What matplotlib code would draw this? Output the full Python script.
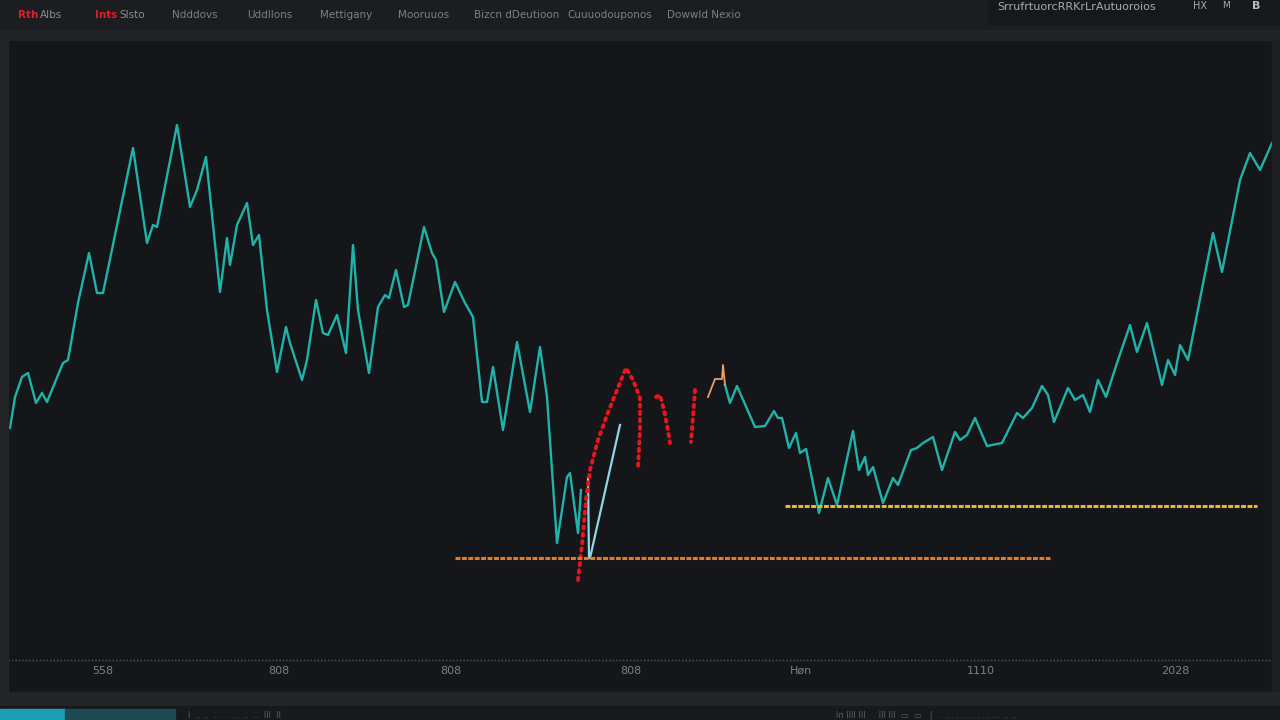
import numpy as np
import matplotlib.pyplot as plt

# main price line (x = bar index, y = price)
px = [10, 15, 22, 28, 36, 42, 47, 63, 68, 78, 89, 97, 103, 133, 147, 153, 157, 177,
      190, 197, 206, 220, 227, 230, 237, 247, 253, 259, 267, 277, 286, 290, 302,
      307, 316, 323, 328, 337, 346, 353, 358, 369, 378, 385, 389, 396, 404, 408,
      424, 432, 436, 444, 455, 465, 473, 482, 487, 493, 503, 517, 530, 540, 547,
      557, 567, 570, 578, 581]
py = [272, 303, 323, 327, 297, 307, 298, 337, 340, 397, 447, 407, 407, 552, 457,
      475, 473, 575, 493, 510, 543, 408, 462, 435, 475, 497, 455, 465, 390, 328,
      373, 357, 320, 340, 400, 367, 365, 385, 347, 455, 390, 327, 393, 405, 402,
      430, 393, 395, 473, 447, 440, 388, 418, 397, 383, 298, 298, 333, 270, 358,
      288, 353, 303, 157, 223, 227, 167, 210]

# light blue rebound leg
lx = [588, 589, 590, 620]
ly = [222, 142, 142, 275]

# red dotted projection (NaN = gap)
rx = [578, 582, 586, 590, 598, 607, 617, 626, 633, 640, 640, 638, np.nan,
      656, 660, 664, 667, 670, np.nan, 695, 693, 691]
ry = [120, 155, 200, 230, 260, 285, 310, 332, 320, 302, 270, 233, np.nan,
      303, 305, 290, 275, 257, np.nan, 310, 283, 258]

# short orange piece
ox = [708, 715, 722, 723, 725]
oy = [303, 321, 321, 335, 315]

# main line after the gap
qx = [725, 730, 737, 755, 765, 774, 778, 782, 789, 796, 800, 806, 819, 828, 837,
      853, 859, 865, 868, 873, 883, 893, 898, 911, 917, 923, 933, 942, 955, 960,
      967, 975, 987, 1002, 1007, 1017, 1023, 1032, 1042, 1048, 1054, 1068, 1075,
      1083, 1090, 1098, 1106, 1117, 1130, 1137, 1147, 1162, 1168, 1175, 1180,
      1188, 1213, 1222, 1240, 1250, 1260, 1272]
qy = [315, 297, 314, 273, 274, 289, 282, 282, 252, 267, 247, 251, 187, 222, 195,
      269, 230, 243, 225, 233, 197, 222, 215, 250, 252, 257, 263, 230, 268, 260,
      265, 282, 254, 257, 267, 287, 282, 292, 314, 305, 278, 312, 300, 305, 288,
      320, 303, 337, 375, 348, 377, 315, 340, 325, 355, 340, 467, 428, 520, 547,
      530, 557]

support_orange = 142
support_yellow = 194
orange_span = (455, 1050)
yellow_span = (785, 1257)

tick_pos = [103, 279, 451, 631, 801, 981, 1175]
tick_lab = ['558', '808', '808', '808', 'Høn', '1110', '2028']

menu = ['Ndddovs', 'Uddllons', 'Mettigany', 'Mooruuos', 'Bizcn dDeutioon',
        'Cuuuodouponos', 'Dowwld Nexio']
menu_x = [172, 247, 320, 398, 474, 567, 667]

bg = '#1c1d20'
fig = plt.figure(figsize=(12.8, 7.2), dpi=100, facecolor=bg)
W, H = 1280, 720

def box(x0, y0, x1, y1, c):
    fig.patches.append(plt.Rectangle((x0 / W, 1 - y1 / H), (x1 - x0) / W, (y1 - y0) / H,
                                     transform=fig.transFigure, color=c, zorder=0))

box(0, 30, 1280, 40, '#222326')
box(0, 40, 8, 700, '#232427')
box(1272, 40, 1280, 700, '#1e1f22')
box(988, 0, 1280, 24, '#17181a')
box(0, 692, 1280, 706, '#242528')
box(0, 706, 1280, 720, '#18191c')
box(0, 709, 65, 720, '#1b9fb5')
box(65, 709, 175, 720, '#1d4a52')

ax = fig.add_axes([8 / W, 1 - 692 / H, 1264 / W, 652 / H])
ax.set_facecolor('#151619')
ax.set_xlim(8, 1272)
ax.set_ylim(8, 660)
for s in ax.spines.values():
    s.set_visible(False)
ax.set_yticks([])
ax.set_xticks(tick_pos)
ax.set_xticklabels(tick_lab, color='#7d7f84', fontsize=8)
ax.tick_params(axis='x', length=0, pad=-19)

ax.axhline(40, color='#55575c', lw=1, ls=(0, (1, 1.5)))

ax.plot(px, py, color='#1fb3aa', lw=1.7, solid_joinstyle='round')
ax.plot(qx, qy, color='#1fb3aa', lw=1.7, solid_joinstyle='round')
ax.plot(lx, ly, color='#8fd6e8', lw=1.6)
ax.plot(rx, ry, color='#e8141e', lw=2.8, ls=(0, (0.6, 1.3)), dash_capstyle='round')
ax.plot(ox, oy, color='#e8a070', lw=1.3)
ax.hlines(support_orange, *orange_span, color='#e67a22', lw=2.2, ls=(0, (1.6, 0.5)))
ax.hlines(support_yellow, *yellow_span, color='#e8b52c', lw=2.2, ls=(0, (1.6, 0.5)))

# top menu
fig.text(18 / W, 1 - 15 / H, 'Rth', color='#d8202a', fontsize=7.5, va='center', weight='bold')
fig.text(40 / W, 1 - 15 / H, 'Albs', color='#8a8c90', fontsize=7.5, va='center')
fig.text(95 / W, 1 - 15 / H, 'Ints', color='#d8202a', fontsize=7.5, va='center', weight='bold')
fig.text(119 / W, 1 - 15 / H, 'Slsto', color='#8a8c90', fontsize=7.5, va='center')
for t, x in zip(menu, menu_x):
    fig.text(x / W, 1 - 15 / H, t, color='#7d7f84', fontsize=7.5, va='center')
fig.text(997 / W, 1 - 7 / H, 'SrrufrtuorcRRKrLrAutuoroios', color='#a8aaae',
         fontsize=8, va='center')
fig.text(1193 / W, 1 - 6 / H, 'HX', color='#a8aaae', fontsize=7, va='center')
fig.text(1222 / W, 1 - 6 / H, 'M', color='#a8aaae', fontsize=6.5, va='center')
fig.text(1252 / W, 1 - 6 / H, 'B', color='#b8babe', fontsize=8, va='center', weight='bold')

# faint bottom toolbar text
fig.text(188 / W, 1 - 716 / H, 'l  .. ..  ..  .  ..  ..  ..  lll  ll', color='#5a5c60',
         fontsize=6, va='center')
fig.text(836 / W, 1 - 716 / H, 'ln llll lll   . lll lll  ▭  ▭   |   . ... ... . ... ... ... .. ..',
         color='#5a5c60', fontsize=6, va='center')

fig.savefig('out.png', dpi=100, facecolor=bg)
